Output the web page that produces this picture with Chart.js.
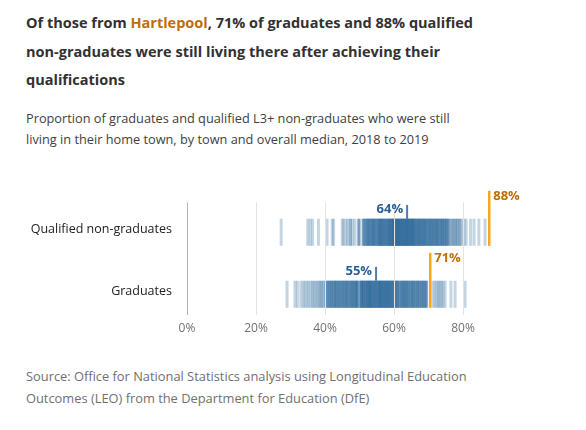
<!DOCTYPE html>
<html>
<head>
<meta charset="utf-8">
<script src="https://cdn.jsdelivr.net/npm/chart.js@4/dist/chart.umd.min.js"></script>
<style>
  html, body { margin: 0; padding: 0; background: #fff; }
  body { width: 586px; height: 430px; position: relative; overflow: hidden; font-family: "Open Sans", sans-serif; }
  #title { position: absolute; left: 26px; top: 9px; width: 560px; white-space: nowrap; font-size: 14.5px; font-weight: 700; line-height: 28.5px; color: #323132; }
  #title .town { color: #bf6d0b; }
  #subtitle { position: absolute; left: 26px; top: 108px; width: 560px; white-space: nowrap; font-size: 12.75px; line-height: 21px; color: #414042; }
  #source { position: absolute; left: 26px; top: 365px; width: 560px; white-space: nowrap; font-size: 12.85px; line-height: 22px; color: #707071; }
  #wrap { position: absolute; left: 0; top: 180px; width: 586px; height: 165px; }
</style>
</head>
<body>
<div id="title">Of those from <span class="town">Hartlepool</span>, 71% of graduates and 88% qualified<br>non-graduates were still living there after achieving their<br>qualifications</div>
<div id="subtitle">Proportion of graduates and qualified L3+ non-graduates who were still<br>living in their home town, by town and overall median, 2018 to 2019</div>
<div id="wrap"><canvas id="c" width="586" height="165"></canvas></div>
<div id="source">Source: Office for National Statistics analysis using Longitudinal Education<br>Outcomes (LEO) from the Department for Education (DfE)</div>
<script>
const categories = ['Qualified non-graduates', 'Graduates'];

const nonGradValues = [27.3, 35.0, 35.7, 36.4, 38.1, 40.6, 42.1, 42.5, 45.0, 45.4, 46.1, 46.6, 47.3, 47.4, 48.0, 48.7, 49.8, 49.8, 49.9,
  51.0, 51.1, 51.2, 51.5, 51.7, 51.9, 52.1, 52.2, 52.4, 52.6, 52.7, 52.9, 53.0, 53.3, 53.4, 53.5, 53.8, 53.9, 54.0, 54.1,
  54.3, 54.4, 54.7, 54.8, 54.9, 55.2, 55.3, 55.5, 55.6, 55.8, 55.9, 56.0, 56.1, 56.3, 56.4, 56.6, 56.7, 56.8, 57.0, 57.1,
  57.3, 57.4, 57.6, 57.7, 57.9, 58.0, 58.2, 58.3, 58.4, 58.6, 58.7, 58.8, 58.9, 59.1, 59.2, 59.3, 59.5, 59.6,
  59.7, 59.8, 59.8, 60.0, 60.1, 60.3, 60.3, 60.4, 60.6, 60.7, 60.9, 60.9, 61.0, 61.2, 61.3, 61.3, 61.5, 61.6, 61.8, 61.9,
  62.0, 62.0, 62.2, 62.4, 62.5, 62.5, 62.7, 62.8, 63.0, 63.1, 63.1, 63.3, 63.4, 63.6, 63.7, 63.7, 63.9, 64.0, 64.2, 64.3,
  64.3, 64.5, 64.6, 64.8, 64.9, 65.0, 65.1, 65.3, 65.4, 65.4, 65.6, 65.7, 65.9, 66.0, 66.1, 66.3, 66.4, 66.6, 66.7,
  66.9, 67.0, 67.1, 67.3, 67.4, 67.6, 67.7, 67.9, 68.0, 68.2, 68.3, 68.5, 68.6, 68.8, 68.9, 69.1, 69.2, 69.4, 69.5, 69.7,
  69.9, 70.1, 70.2, 70.3, 70.5, 70.7, 70.8, 70.9, 71.2, 71.3, 71.4, 71.6, 71.8, 72.0, 72.1, 72.3, 72.4, 72.6, 72.7, 72.9,
  73.1, 73.3, 73.4, 73.6, 73.8, 73.9, 74.1, 74.2, 74.5, 74.6, 74.7, 74.9, 75.2, 75.3, 75.4, 75.6, 75.9, 76.1,
  76.5, 76.9, 77.1, 77.4, 77.8, 78.0, 78.3, 78.6, 79.0, 79.2, 79.7, 80.3, 80.9, 82.2, 83.2, 84.6, 86.4];

const gradValues = [29.0, 31.3, 32.0, 33.0, 33.7, 34.2, 34.8, 35.3, 35.9, 36.4, 36.8, 37.3, 37.7, 38.2, 38.5, 38.9, 39.2, 39.6,
  40.1, 40.3, 40.6, 40.8, 40.9, 41.1, 41.3, 41.6, 41.7, 41.9, 42.0, 42.3, 42.5, 42.6, 42.8, 43.0, 43.1, 43.3, 43.4, 43.7,
  43.9, 44.0, 44.2, 44.3, 44.6, 44.8, 44.9, 45.1, 45.3, 45.5, 45.6, 45.8, 46.0, 46.2, 46.3, 46.5, 46.6, 46.9, 47.0, 47.2,
  47.4, 47.6, 47.7, 47.9, 48.0, 48.3, 48.4, 48.5, 48.7, 48.9, 49.1, 49.2, 49.4, 49.4, 49.4,
  50.1, 50.3, 50.3, 50.5, 50.6, 50.7, 51.0, 51.1, 51.1, 51.2, 51.4, 51.6, 51.8, 51.9, 52.0, 52.2, 52.3, 52.5, 52.5, 52.6,
  52.9, 53.0, 53.1, 53.2, 53.3, 53.3, 53.6, 53.7, 53.8, 54.0, 54.1, 54.3, 54.4, 54.6, 54.6, 54.8, 55.0, 55.1, 55.3, 55.4,
  55.5, 55.7, 55.8, 55.9, 56.0, 56.2, 56.3, 56.3, 56.5, 56.6, 56.8, 56.9, 57.0, 57.2, 57.3, 57.4, 57.6, 57.6, 57.8, 57.9,
  58.1, 58.2, 58.3, 58.5, 58.5, 58.7, 58.8, 59.0, 59.1, 59.2, 59.4, 59.5, 59.7, 59.7, 59.9, 60.1, 60.2, 60.4, 60.5, 60.6,
  60.9, 61.0, 61.1, 61.2, 61.5, 61.6,
  61.9, 62.1, 62.2, 62.4, 62.5, 62.8, 62.9, 63.0, 63.1, 63.4, 63.5, 63.7, 63.8, 64.0, 64.1, 64.3, 64.6, 64.7, 64.9, 65.0,
  65.3, 65.4, 65.6, 65.7, 65.9, 66.2, 66.3, 66.5, 66.7, 66.8, 67.1, 67.2, 67.4, 67.5, 67.9, 68.0, 68.1, 68.3, 68.6, 68.7,
  68.8, 69.1, 69.3, 69.4, 69.5,
  71.3, 71.9, 72.4, 72.9, 73.3, 73.8, 74.2, 74.8, 76.5, 77.7, 80.6];

const medianValues = [63.8, 54.8];
const hartlepoolValues = [87.6, 70.5];
const xTickValues = [0, 20, 40, 60, 80];

const seriesValues = [nonGradValues, gradValues];
const rowOf = i => categories.length - 1 - i;
const BAND = 13.5;

const datasets = seriesValues.map((vals, i) => ({
  label: categories[i],
  data: vals.map(v => ({ x: v, y: rowOf(i) })),
  pointStyle: 'line',
  rotation: 90,
  radius: BAND,
  hoverRadius: BAND,
  borderWidth: 3,
  borderColor: 'rgba(32,96,149,0.27)',
  backgroundColor: 'rgba(32,96,149,0.27)'
}));

const markerPlugin = {
  id: 'markers',
  afterDraw(chart) {
    const { ctx, scales: { x, y } } = chart;
    ctx.save();
    categories.forEach((c, i) => {
      const yc = y.getPixelForValue(rowOf(i));
      const top = yc - BAND;
      const bottom = yc + BAND;
      const mx = x.getPixelForValue(medianValues[i]);
      ctx.strokeStyle = '#4a7fb0';
      ctx.lineWidth = 2;
      ctx.beginPath(); ctx.moveTo(mx, top - 14); ctx.lineTo(mx, top); ctx.stroke();
      ctx.font = 'bold 13px "Open Sans"';
      ctx.textBaseline = 'middle';
      ctx.textAlign = 'right';
      ctx.fillStyle = '#2a5f96';
      ctx.fillText(Math.round(medianValues[i]) + '%', mx - 4, top - 9.5);
      const hx = x.getPixelForValue(hartlepoolValues[i]);
      ctx.strokeStyle = '#f9a61c';
      ctx.lineWidth = 2.5;
      ctx.beginPath(); ctx.moveTo(hx, top - 28); ctx.lineTo(hx, bottom); ctx.stroke();
      ctx.textAlign = 'left';
      ctx.fillStyle = '#bf6d0b';
      ctx.fillText(Math.round(hartlepoolValues[i]) + '%', hx + 4, top - 22.5);
    });
    ctx.restore();
  }
};

new Chart(document.getElementById('c'), {
  type: 'scatter',
  data: { datasets },
  plugins: [markerPlugin],
  options: {
    responsive: false,
    animation: false,
    events: [],
    layout: { padding: { top: 17, right: 88.5, left: 0, bottom: 0 } },
    plugins: { legend: { display: false }, tooltip: { enabled: false } },
    scales: {
      x: {
        type: 'linear',
        min: 0,
        max: 90,
        afterBuildTicks: s => { s.ticks = xTickValues.map(v => ({ value: v })); },
        afterFit: s => { s.height = 30; },
        grid: {
          z: 1,
          drawTicks: false,
          color: c => (c.tick && c.tick.value === 0) ? '#b3b3b3' : '#e2e2e2',
          lineWidth: 1
        },
        border: { display: false },
        ticks: {
          padding: 6,
          color: '#707071',
          font: { family: 'Open Sans', size: 12 },
          callback: v => v + '%'
        }
      },
      y: {
        type: 'linear',
        min: -0.334,
        max: 1.482,
        afterBuildTicks: s => { s.ticks = categories.map((c, i) => ({ value: rowOf(i) })); },
        afterFit: s => { s.width = 187; },
        grid: { display: false, drawTicks: false },
        border: { display: false },
        ticks: {
          padding: 15,
          labelOffset: -3,
          color: '#222222',
          font: { family: 'Open Sans', size: 12.5 },
          callback: v => categories[categories.length - 1 - v]
        }
      }
    }
  }
});
</script>
</body>
</html>
